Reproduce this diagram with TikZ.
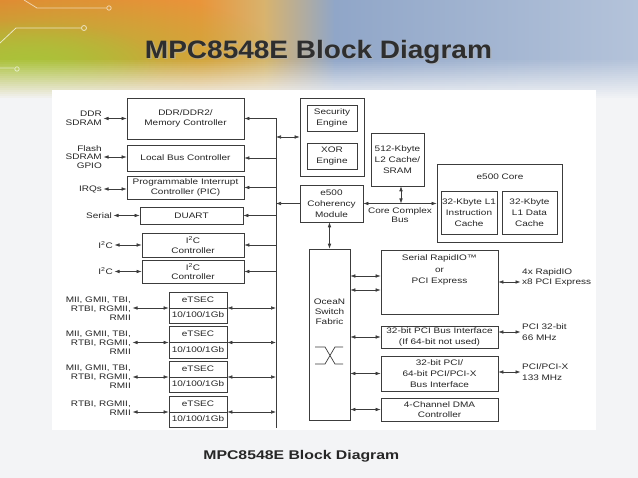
\documentclass[tikz,border=0pt]{standalone}
\usepackage{fontspec}
\setmainfont{Liberation Sans}
\usepackage{tikz}
\usetikzlibrary{arrows.meta,positioning,calc,shapes.multipart,fadings}

\definecolor{ink}{HTML}{262626}
\definecolor{wire}{HTML}{3C3C3C}
\definecolor{slidebg}{HTML}{F3F4F6}
\definecolor{bnorange}{HTML}{E9953A}
\definecolor{bntan}{HTML}{D8B36E}
\definecolor{bnblue}{HTML}{90A6C8}
\definecolor{bnpale}{HTML}{B4C3DA}
\definecolor{bngreen}{HTML}{ABC23A}
\definecolor{titlegray}{HTML}{2E2E2E}

\newcommand\dgfont{\fontsize{10}{12}\selectfont}
\newcommand\dgloose{\fontsize{10}{14}\selectfont}
\newcommand\dgtight{\fontsize{10}{11}\selectfont}

\tikzfading[name=blobfade, inner color=transparent!0, outer color=transparent!100]

\tikzset{
  blk/.style={draw=wire, line width=0.7pt, fill=white, align=center, inner sep=1pt, text=ink, font=\dgfont},
  sz/.style 2 args={minimum width=#1pt, minimum height=#2*1.25pt},
  lbl/.style={text=ink, font=\dgtight, align=right, anchor=east, inner sep=1.5pt},
  rlbl/.style={text=ink, font=\fontsize{10}{13}\selectfont, align=left, anchor=west, inner sep=1.5pt},
  txt/.style={text=ink, font=\dgfont, align=center, inner sep=1pt},
  eth/.style={blk, rectangle split, rectangle split parts=2, minimum width=58pt, inner ysep=3.5pt},
  dbl/.style={{Latex[length=5pt,width=3.6pt]}-{Latex[length=5pt,width=3.6pt]}, draw=wire, line width=0.6pt},
  one/.style={-{Latex[length=5pt,width=3.6pt]}, draw=wire, line width=0.6pt}
}

\begin{document}
\begin{tikzpicture}[x=1pt, y=-1pt, every node/.append style={yscale=0.8}]
  \useasboundingbox (0,0) rectangle (638,478);
  % slide background and banner
  \fill[slidebg] (0,0) rectangle (638,478);
  \begin{scope}
    \clip (0,0) rectangle (638,100);
    \shade[left color=bnorange!85!red, right color=bnorange] (0,0) rectangle (200,100);
    \shade[left color=bnorange, right color=bntan] (199.5,0) rectangle (265,100);
    \shade[left color=bntan, right color=bnblue] (264.5,0) rectangle (335,100);
    \shade[left color=bnblue, right color=bnpale] (334.5,0) rectangle (638,100);
    \fill[bngreen, path fading=blobfade] (-230,-16) rectangle (290,144);
    \fill[bngreen, path fading=blobfade] (-120,20) rectangle (160,110);
  \end{scope}
  \foreach \k in {1,...,20} {
    \pgfmathsetmacro\op{\k/20}
    \fill[slidebg, opacity=\op] (0,58+2*\k) rectangle (638,60+2*\k);
  }
  \draw[white, opacity=0.6, line width=0.8pt] (24,0) -- (37,8) -- (106,8) (109,8) circle (2.2);
  \draw[white, opacity=0.7, line width=0.8pt] (0,43) -- (16,28) -- (81,28) (84,28) circle (2.5);
  \draw[white, opacity=0.6, line width=0.8pt] (0,68) -- (14,68) (17,69) circle (2.2);
  \fill[white] (52,90) rectangle (596,430);
  % titles
  \node[anchor=base, font=\fontsize{28}{30}\selectfont\bfseries, text=gray!60, opacity=0.6, yscale=1.125] (titleshade) at (320,60) {MPC8548E Block Diagram};
  \node[anchor=base, font=\fontsize{28}{30}\selectfont\bfseries, text=titlegray, yscale=1.125] (title) at (318.5,58.5) {MPC8548E Block Diagram};
  \node[anchor=base, font=\fontsize{15.8}{18}\selectfont\bfseries, text=ink] (caption) at (301.3,459.3) {MPC8548E Block Diagram};

  % left column
  \node[blk, sz={117}{41}] (ddr) at (185.5,118.5) {DDR/DDR2/\\Memory Controller};
  \node[blk, sz={117}{26}] (lbc) at (185.5,158) {Local Bus Controller};
  \node[blk, sz={117}{23}] (pic) at (185.5,187.5) {Programmable Interrupt\\Controller (PIC)};
  \node[blk, sz={103}{17}] (duart) at (191.5,215.5) {DUART};
  \node[blk, sz={102}{24}] (i2ca) at (193,245) {I\textsuperscript{2}C\\Controller};
  \node[blk, sz={102}{23}] (i2cb) at (193,271.5) {I\textsuperscript{2}C\\Controller};
  \foreach \i/\y in {1/308, 2/342.5, 3/377, 4/412}
    \node[eth] (eth\i) at (198,\y) {eTSEC\strut\nodepart{two}10/100/1Gb\strut};

  \node[lbl] (lddr) at (103.5,118.5) {DDR\\SDRAM};
  \node[lbl] (lflash) at (103.5,157) {Flash\\SDRAM\\GPIO};
  \node[lbl] (lirq) at (103.5,189) {IRQs};
  \node[lbl] (lser) at (113.5,215.5) {Serial};
  \node[lbl] (li2ca) at (114.5,245) {I\textsuperscript{2}C};
  \node[lbl] (li2cb) at (114.5,271.5) {I\textsuperscript{2}C};
  \foreach \i/\y in {1/309, 2/343, 3/377}
    \node[lbl] (leth\i) at (132.5,\y) {MII, GMII, TBI,\\RTBI, RGMII,\\RMII};
  \node[lbl] (leth4) at (132.5,408) {RTBI, RGMII,\\RMII};

  \draw[dbl] (lddr.east) -- (lddr.east -| ddr.west);
  \draw[dbl] (lflash.east) -- (lflash.east -| lbc.west);
  \draw[dbl] (lirq.east) -- (lirq.east -| pic.west);
  \draw[dbl] (lser.east) -- (lser.east -| duart.west);
  \draw[dbl] (li2ca.east) -- (li2ca.east -| i2ca.west);
  \draw[dbl] (li2cb.east) -- (li2cb.east -| i2cb.west);
  \foreach \i in {1,...,4}
    \draw[dbl] (eth\i.west -| leth\i.east) -- (eth\i.west);

  % main bus
  \coordinate (bustop) at (276,118.5);
  \coordinate (busbot) at (276,428);
  \draw[wire, line width=0.7pt] (bustop) -- (busbot);
  \foreach \n in {ddr,lbc,pic,duart,i2ca,i2cb}
    \draw[one] (\n.east -| bustop) -- (\n.east);
  \foreach \i in {1,...,4}
    \draw[dbl] (eth\i.east) -- (eth\i.east -| bustop);

  % engines, coherency module, L2
  \node[blk, sz={64}{78}] (crypt) at (332,137) {};
  \node[blk, sz={50}{26}, font=\dgloose] (sec) at (332,118) {Security\\Engine};
  \node[blk, sz={50}{26}, font=\dgloose] (xor) at (332,156) {XOR\\Engine};
  \draw[dbl] (crypt.west -| bustop) -- (crypt.west);
  \node[blk, sz={63}{37}, font=\dgloose] (coh) at (331.5,203.5) {e500\\Coherency\\Module};
  \draw[one] (coh.west) -- (coh.west -| bustop);
  \node[blk, sz={53}{53}, font=\dgloose] (l2) at (397.5,159.5) {512-Kbyte\\L2 Cache/\\SRAM};

  % core
  \node[blk, sz={125}{78}] (core) at (499.5,203) {};
  \node[txt] (coretitle) at (500,177) {e500 Core};
  \node[blk, sz={56}{43}, font=\dgloose] (l1i) at (469,212.5) {32-Kbyte L1\\Instruction\\Cache};
  \node[blk, sz={55}{43}, font=\dgloose] (l1d) at (529.5,212.5) {32-Kbyte\\L1 Data\\Cache};
  \draw[dbl] (coh.east) -- (coh.east -| core.west);
  \node[txt, font=\dgtight] (ccb) at (400,215) {Core Complex\\Bus};
  \coordinate (l2tap) at ([xshift=3.5pt]l2.south);
  \draw[dbl] (l2tap) -- (l2tap |- coh.east);

  % switch fabric
  \node[blk, sz={41}{171}] (ocean) at (329.5,334.5) {};
  \node[txt, font=\fontsize{10}{12.5}\selectfont] (oceantxt) at (329.5,312) {OceaN\\Switch\\Fabric};
  \draw[wire, line width=0.7pt] (315,347) -- (325,347) -- (335,364) -- (343,364)
    (315,364) -- (325,364) -- (335,347) -- (343,347);
  \draw[dbl] (ocean.north) -- (ocean.north |- coh.south);

  % right column
  \node[blk, sz={117}{64}] (srio) at (439.5,282) {};
  \node[txt, font=\dgloose] (sriotxt) at (439.5,270) {Serial RapidIO™\\or\\PCI Express};
  \node[blk, sz={117}{22}, font=\fontsize{10}{13}\selectfont] (pci32) at (439.5,337) {32-bit PCI Bus Interface\\(If 64-bit not used)};
  \node[blk, sz={117}{35}, font=\dgloose] (pcix) at (439.5,373.5) {32-bit PCI/\\64-bit PCI/PCI-X\\Bus Interface};
  \node[blk, sz={117}{23}] (dma) at (439.5,409.5) {4-Channel DMA\\Controller};
  \coordinate (srin1) at ([yshift=6pt]srio.west);
  \coordinate (srin2) at ([yshift=-8pt]srio.west);
  \draw[dbl] (srin1 -| ocean.east) -- (srin1);
  \draw[dbl] (srin2 -| ocean.east) -- (srin2);
  \foreach \n in {pci32,pcix,dma}
    \draw[dbl] (\n.west -| ocean.east) -- (\n.west);

  \node[rlbl] (lsrio) at (520.5,277.5) {4x RapidIO\\x8 PCI Express};
  \node[rlbl] (lpci32) at (520.5,332) {PCI 32-bit\\66 MHz};
  \node[rlbl] (lpcix) at (520.5,372) {PCI/PCI-X\\133 MHz};
  \draw[dbl] (srio.east) -- (srio.east -| lsrio.west);
  \draw[dbl] (lpci32.west -| pci32.east) -- (lpci32.west);
  \draw[dbl] (lpcix.west -| pcix.east) -- (lpcix.west);
\end{tikzpicture}
\end{document}
